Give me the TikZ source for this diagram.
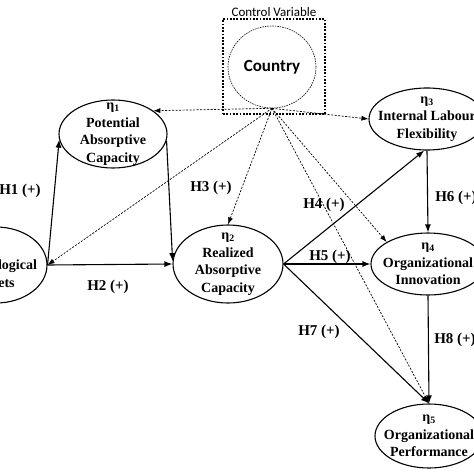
\documentclass[tikz,border=0pt]{standalone}
\usepackage{fontspec}
\setmainfont{Liberation Serif}
\newfontfamily\ctryfont{Carlito}
\usetikzlibrary{shapes.geometric, arrows.meta}

\begin{document}
\begin{tikzpicture}[x=1pt, y=-1pt, every node/.style={anchor=center},
    latent/.style={ellipse, draw, line width=1.1pt, inner sep=0pt},
    ltxt/.style={align=center, inner sep=0pt, font=\bfseries\fontsize{14}{17.5}\selectfont},
    hyp/.style={font=\bfseries\fontsize{15}{18}\selectfont},
    effect/.style={line width=1.1pt, -{Latex[length=8pt,width=6pt]}},
    control/.style={line width=0.7pt, dash pattern=on 2pt off 1.5pt, -{Latex[length=7pt,width=5pt]}}]
    \clip (0,0) rectangle (474,474);
    % Control variable
    \node[draw, line width=1.8pt, dash pattern=on 1.8pt off 1.5pt, minimum width=102pt, minimum height=95pt] (ctrlbox) at (274,66.5) {};
    \node[anchor=south, inner sep=1pt, font=\ctryfont\fontsize{13}{15}\selectfont] (ctrllabel) at (ctrlbox.north) {Control Variable};
    \node[ellipse, draw, line width=0.6pt, dash pattern=on 1.5pt off 1pt, inner sep=0pt, minimum width=88pt, minimum height=82pt, font=\ctryfont\bfseries\fontsize{17}{20}\selectfont] (country) at (272,67) {Country};
    % Latent constructs
    \node[latent, minimum width=102pt, minimum height=76pt] (tech) at (-4,265) {};
    \node[latent, minimum width=108pt, minimum height=68pt] (eta1) at (113,134) {};
    \node[latent, minimum width=110pt, minimum height=78pt] (eta2) at (228,264) {};
    \node[latent, minimum width=116pt, minimum height=62pt] (eta3) at (427,119) {};
    \node[latent, minimum width=114pt, minimum height=62pt] (eta4) at (428,264) {};
    \node[latent, minimum width=108pt, minimum height=64pt] (eta5) at (429,436) {};
    \node[ltxt] (techtxt) at (tech) {\phantom{X}\\Technological\\Assets};
    \node[ltxt] (eta1txt) at (eta1) {η\textsubscript{1}\\Potential\\Absorptive\\Capacity};
    \node[ltxt] (eta2txt) at (eta2) {η\textsubscript{2}\\Realized\\Absorptive\\Capacity};
    \node[ltxt] (eta3txt) at (eta3) {η\textsubscript{3}\\Internal Labour\\Flexibility};
    \node[ltxt] (eta4txt) at (eta4) {η\textsubscript{4}\\Organizational\\Innovation};
    \node[ltxt] (eta5txt) at (eta5) {η\textsubscript{5}\\Organizational\\Performance};
    % Hypotheses
    \draw[effect] (tech.east) -- (eta1.186); % H1
    \draw[effect] (eta1.353) -- (eta2.177);
    \draw[effect] (tech.east) -- (eta2.west); % H2
    \draw[effect] (eta2.east) -- (eta3.265); % H4
    \draw[effect] (eta2.east) -- (eta4.west); % H5
    \draw[effect] (eta2.east) -- (eta5.north); % H7
    \draw[effect] (eta3.south) -- (eta4.north); % H6
    \draw[effect] (eta4.south) -- (eta5.north); % H8
    % Control paths
    \draw[control] (country.south) -- (eta1.30);
    \draw[control] (country.south) -- (eta3.west);
    \draw[control] (country.south) -- (tech.east);
    \draw[control] (country.south) -- (eta2.north); % H3
    \draw[control] (country.south) -- (eta4.152);
    \draw[control] (country.south) -- (eta5.north);
    % Labels
    \node[hyp] (h1) at (20,191) {H1 (+)};
    \node[hyp] (h2) at (108,287) {H2 (+)};
    \node[hyp] (h3) at (211,188) {H3 (+)};
    \node[hyp] (h4) at (324,205) {H4 (+)};
    \node[hyp] (h5) at (330,257) {H5 (+)};
    \node[hyp] (h6) at (456,198) {H6 (+)};
    \node[hyp] (h7) at (319,332) {H7 (+)};
    \node[hyp] (h8) at (455,340) {H8 (+)};
\end{tikzpicture}
\end{document}
